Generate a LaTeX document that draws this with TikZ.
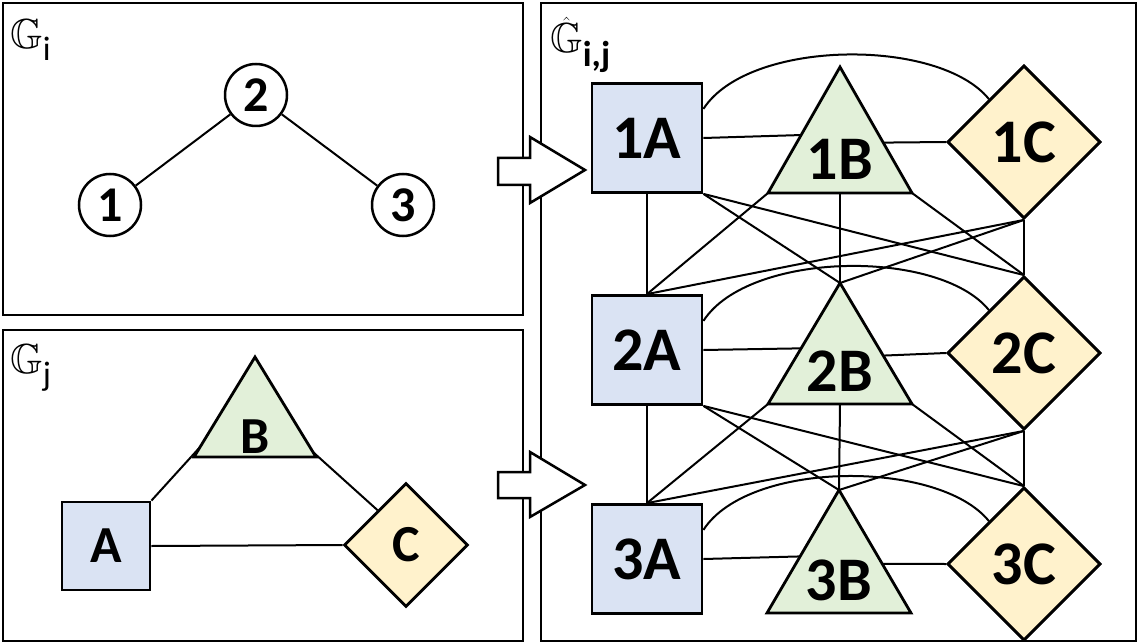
\documentclass[tikz,border=0pt]{standalone}
\usepackage{fontspec}
\usepackage{amssymb}
\setmainfont{Carlito}
\usetikzlibrary{shapes.geometric,calc}
\definecolor{cA}{HTML}{DAE3F3}
\definecolor{cB}{HTML}{E2F0D9}
\definecolor{cC}{HTML}{FFF2CC}
\tikzset{
  box/.style={draw,line width=2.5pt},
  sq/.style={draw,line width=2.8pt,fill=cA,minimum width=110pt,minimum height=109pt,inner sep=0,font=\fontsize{62}{62}\selectfont\bfseries},
  dia/.style={draw,line width=2.8pt,fill=cC,diamond,aspect=1,minimum width=153pt,minimum height=153pt,inner sep=0,font=\fontsize{62}{62}\selectfont\bfseries},
  circ/.style={draw,line width=2.5pt,circle,minimum size=62pt,inner sep=0,font=\fontsize{50}{50}\selectfont\bfseries},
  tri/.style={draw,line width=2.8pt,fill=cB,line join=miter},
  ed/.style={line width=2pt},
  barrow/.style={draw,line width=2.5pt,fill=white,line join=miter},
}
% \mytri{name}{x}{yapex}{halfw}{h}{label}{labeloffset}{fontsize}
\newcommand{\mytri}[8]{%
  \draw[tri] (#2,#3) -- (#2+#4,#3+#5) -- (#2-#4,#3+#5) -- cycle;
  \coordinate (#1-t) at (#2,#3);
  \coordinate (#1-l) at (#2-#4,#3+#5);
  \coordinate (#1-r) at (#2+#4,#3+#5);
  \coordinate (#1-b) at (#2,#3+#5);
  \node[inner sep=0,font=\fontsize{#8}{#8}\selectfont\bfseries] (#1) at (#2,#3+#7) {#6};
}
\begin{document}
\begin{tikzpicture}[x=1pt,y=-1pt]
\useasboundingbox (0,0) rectangle (1139,644);
% panels
\draw[box] (3,3) rectangle (523,315);
\draw[box] (3,330) rectangle (523,641);
\draw[box] (541,3) rectangle (1136,641);
\node[anchor=west,inner sep=0,font=\fontsize{42}{42}\selectfont] (gi) at (10,40) {$\mathbb{G}$\raisebox{-12pt}{\fontsize{34}{34}\selectfont i}};
\node[anchor=west,inner sep=0,font=\fontsize{42}{42}\selectfont] (gj) at (10,368) {$\mathbb{G}$\raisebox{-12pt}{\fontsize{34}{34}\selectfont j}};
\node[anchor=west,inner sep=0,font=\fontsize{42}{42}\selectfont] (gij) at (550,45) {$\hat{\mathbb{G}}$\raisebox{-14pt}{\fontsize{36}{36}\selectfont\bfseries i,j}};
% block arrows
\draw[barrow] (498,158) -- (530,158) -- (530,137) -- (585,170) -- (530,203) -- (530,185) -- (498,185) -- cycle;
\draw[barrow] (498,472) -- (530,472) -- (530,452) -- (585,485) -- (530,517) -- (530,498) -- (498,498) -- cycle;
% G_i
\node[circ] (n2) at (256,95) {2};
\node[circ] (n1) at (110,205) {1};
\node[circ] (n3) at (403,205) {3};
\draw[ed] (n1) -- (n2);
\draw[ed] (n2) -- (n3);
% G_j
\mytri{B}{255}{357}{61}{100}{B}{80}{52}
\node[sq,minimum width=88pt,minimum height=88pt,font=\fontsize{52}{52}\selectfont\bfseries] (A) at (106,546) {A};
\node[dia,minimum width=124pt,minimum height=124pt,font=\fontsize{52}{52}\selectfont\bfseries] (C) at (406,545) {C};
\draw[ed] (A.north east) -- ($(B-l)!0.1!(B-t)$);
\draw[ed] ($(B-r)!0.05!(B-t)$) -- ($(C.west)!0.55!(C.north)$);
\draw[ed] (A.east) -- (C.west);
% product graph
\foreach \r/\ya/\yc in {1/138/142, 2/350/353, 3/559/564}{
  \node[sq] (\r A) at (647,\ya) {\r A};
  \node[dia] (\r C) at (1024,\yc) {\r C};
}
\mytri{1B}{840}{67}{72}{126}{1B}{92}{62}
\mytri{2B}{840}{283}{72}{121}{2B}{88}{62}
\mytri{3B}{839}{490}{72}{123}{3B}{90}{62}
\foreach \r in {1,2,3}{
  \draw[ed] (\r A.east) -- ($(\r B-t)!0.54!(\r B-l)$);
  \draw[ed] ($(\r B-t)!0.6!(\r B-r)$) -- (\r C.west);
  \draw[ed] ($(\r A.north east)!0.24!(\r A.south east)$) .. controls +(45,-70) and +(-50,-62) .. ($(\r C.west)!0.55!(\r C.north)$);
}
\foreach \p/\q in {1/2,2/3}{
  \draw[ed] (\p A.south) -- (\q A.north);
  \draw[ed] (\p B-b) -- (\q B-t);
  \draw[ed] (\p C.south) -- (\q C.north);
  \draw[ed] (\p A.south east) -- (\q B-t);
  \draw[ed] (\p A.south east) -- (\q C.north);
  \draw[ed] (\p B-l) -- (\q A.north);
  \draw[ed] (\p B-r) -- (\q C.north);
  \draw[ed] (\p C.south) -- (\q A.north);
  \draw[ed] (\p C.south) -- (\q B-t);
}
% redraw shapes over edges
\foreach \r/\ya/\yc in {1/138/142, 2/350/353, 3/559/564}{
  \node[sq] at (647,\ya) {\r A};
  \node[dia] at (1024,\yc) {\r C};
}
\end{tikzpicture}
\end{document}
